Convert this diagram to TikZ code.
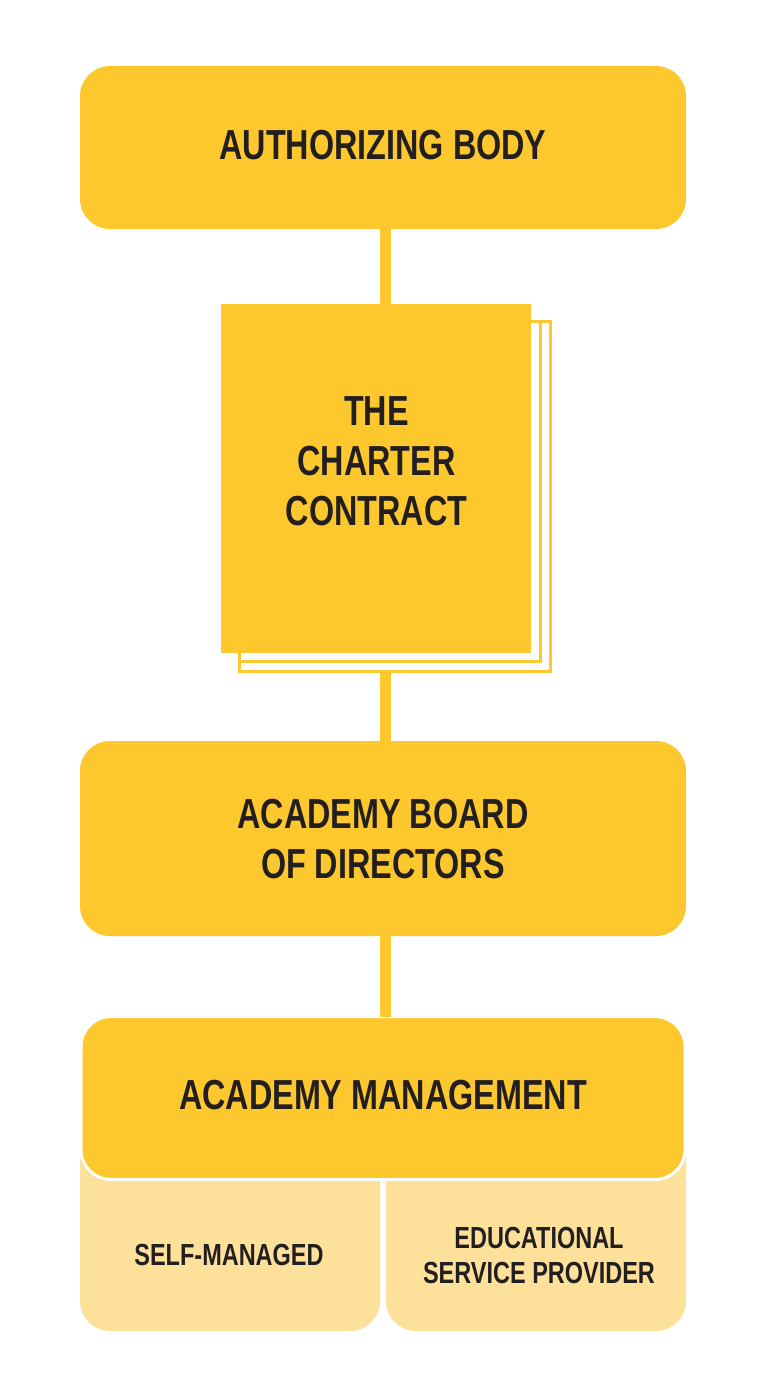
\documentclass[tikz,border=0pt]{standalone}
\usepackage{fontspec}
\setmainfont{Liberation Sans}[FakeStretch=0.77]
\definecolor{gold}{RGB}{253,200,46}
\definecolor{pale}{RGB}{253,225,154}
\definecolor{ink}{RGB}{35,31,32}
\begin{document}
\begin{tikzpicture}[x=1pt,y=-1pt,
  box/.style={fill=gold, rounded corners=30pt, inner sep=0pt},
  lightbox/.style={fill=pale, rounded corners=30pt, inner sep=0pt},
  bigtxt/.style={text=ink, align=center, inner sep=0pt, font=\bfseries\fontsize{42}{50}\selectfont},
  smalltxt/.style={text=ink, align=center, inner sep=0pt, font=\bfseries\fontsize{30.5}{35}\selectfont},
  conn/.style={draw=gold, line width=11pt},
  pageedge/.style={draw=gold, fill=white, line width=3pt, inner sep=0pt}]
\useasboundingbox (0,0) rectangle (768,1396);
\fill[white] (0,0) rectangle (768,1396);
\coordinate (spine) at (385.5,0);

% boxes
\node[box, minimum width=606pt, minimum height=163pt] (auth) at (383,147.5) {};
\node[box, minimum width=606pt, minimum height=195pt] (board) at (383,838.5) {};

% pages behind the charter
\coordinate (chbot) at (385.5,672);
\draw[conn] (chbot) -- (board.north -| spine);
\node[pageedge, minimum width=311pt, minimum height=350pt] (page3) at (395,496.5) {};
\node[pageedge, minimum width=300.5pt, minimum height=340pt] (page2) at (389.75,491.5) {};
\node[fill=gold, minimum width=310pt, minimum height=349pt, inner sep=0pt] (charter) at (376,478.5) {};
\draw[conn] (auth.south -| spine) -- (charter.north -| spine);

% management group
\node[lightbox, minimum width=300pt, minimum height=211pt] (self) at (230,1225.5) {};
\node[lightbox, minimum width=300pt, minimum height=211pt] (esp) at (536,1225.5) {};
\node[box, draw=white, line width=3pt, minimum width=604pt, minimum height=163pt] (mgmt) at (383,1098) {};
\draw[conn] (board.south -| spine) -- ([yshift=-1.5pt]mgmt.north -| spine);

% texts
\node[bigtxt] (tauth) at (383,145) {AUTHORIZING BODY};
\node[bigtxt] (tcharter) at (376.5,461) {THE\\CHARTER\\CONTRACT};
\node[bigtxt] (tboard) at (383,839) {ACADEMY BOARD\\OF DIRECTORS};
\node[bigtxt] (tmgmt) at (383,1095) {ACADEMY MANAGEMENT};
\node[smalltxt] (tself) at (229,1255) {SELF-MANAGED};
\node[smalltxt] (tesp) at (539,1255) {EDUCATIONAL\\SERVICE PROVIDER};
\end{tikzpicture}
\end{document}
